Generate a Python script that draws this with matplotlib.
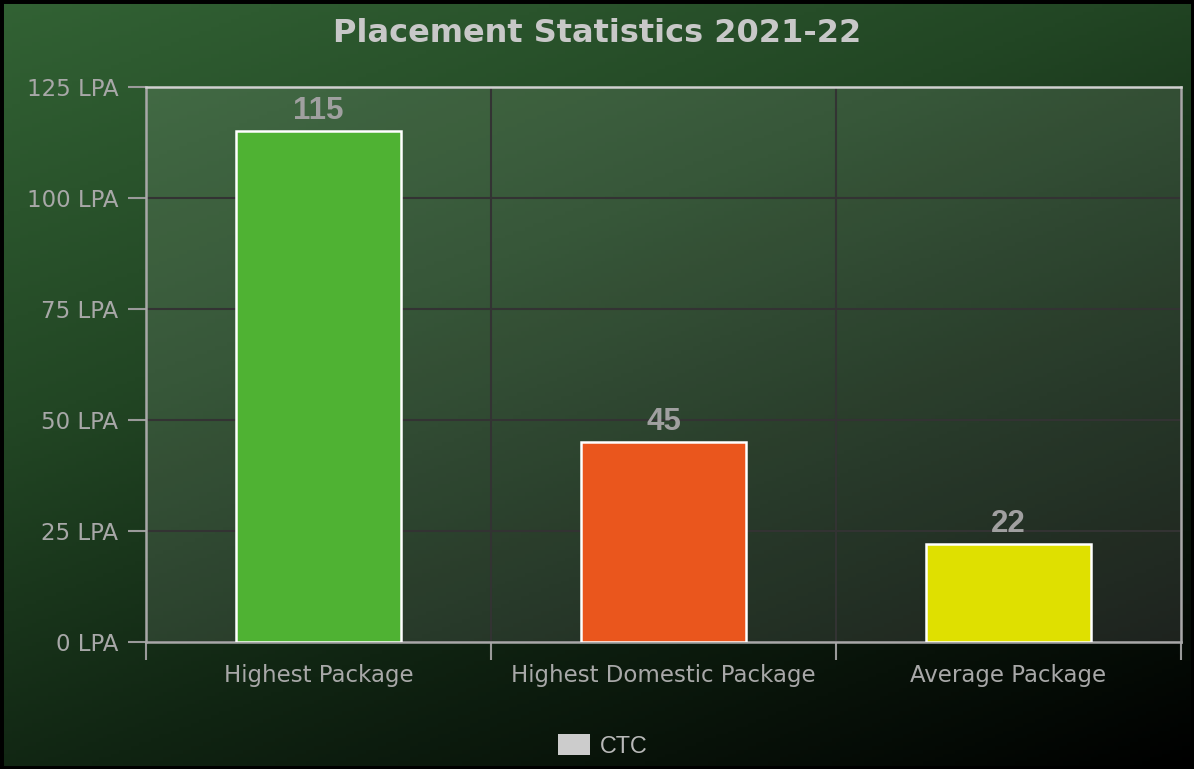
import matplotlib
matplotlib.use("Agg")
import matplotlib.pyplot as plt
import numpy as np
from matplotlib.patches import Patch, Rectangle

categories = ["Highest Package", "Highest Domestic Package", "Average Package"]
ctc = [115, 45, 22]
bar_colors = ["#4fb233", "#ea561d", "#dfe000"]
y_ticks = [0, 25, 50, 75, 100, 125]
y_labels = [f"{v} LPA" for v in y_ticks]

W, H = 1194, 769
fig = plt.figure(figsize=(W / 100, H / 100), dpi=100)

# background gradient (green top-left fading to black bottom-right)
bg = fig.add_axes([0, 0, 1, 1], zorder=-10)
bg.axis("off")
u, v = np.meshgrid(np.linspace(0, 1, 300), np.linspace(0, 1, 200))
t = np.clip(0.45 * u + 0.75 * v, 0, 1.2) / 1.2
stops = np.array([0.0, 0.35, 0.65, 1.0])
cols = np.array([[50, 98, 52], [34, 70, 36], [16, 36, 18], [0, 0, 0]]) / 255
img = np.stack([np.interp(t, stops, cols[:, k]) for k in range(3)], axis=-1)
bg.imshow(img, aspect="auto", extent=[0, 1, 0, 1], origin="upper")
bg.set_xlim(0, 1)
bg.set_ylim(0, 1)
bg.add_patch(Rectangle((0, 0), 1, 1, transform=bg.transAxes, fill=False,
                       edgecolor="black", linewidth=5))

ax = fig.add_axes([146 / W, (H - 642) / H, (1181 - 146) / W, (642 - 87) / H])
ax.set_facecolor((1, 1, 1, 0.1))

x = np.arange(len(categories))
bars = ax.bar(x, ctc, width=0.48, color=bar_colors, edgecolor="white",
              linewidth=1.8, zorder=3)
ax.bar_label(bars, padding=4, fontsize=22.5, fontweight="bold",
             color="#a0a0a0", family="Liberation Sans")

ax.set_xlim(-0.5, 2.5)
ax.set_ylim(0, 125)
ax.set_yticks(y_ticks)
ax.set_yticklabels(y_labels)
ax.set_xticks(x)
ax.set_xticklabels(categories)
ax.set_xticks([-0.5, 0.5, 1.5, 2.5], minor=True)

ax.tick_params(axis="y", length=13, width=1.5, color="#9a9a9a",
               labelcolor="#a8a8a8", labelsize=16.5, pad=7)
ax.tick_params(axis="x", which="major", length=0, labelcolor="#a8a8a8",
               labelsize=16.5, pad=16)
ax.tick_params(axis="x", which="minor", length=13, width=1.5, color="#9a9a9a")

ax.grid(axis="y", color="#333333", linewidth=1.5, zorder=0)
ax.grid(axis="x", which="minor", color="#333333", linewidth=1.5, zorder=0)
ax.set_axisbelow(True)

for side in ["left", "bottom", "right"]:
    ax.spines[side].set_color("#a8a8a8")
    ax.spines[side].set_linewidth(1.8)
ax.spines["top"].set_color("#d0d0d0")
ax.spines["top"].set_linewidth(1.8)

fig.text(0.5, 1 - 33 / H, "Placement Statistics 2021-22", ha="center", va="center",
         fontsize=23, fontweight="bold", color="#c8c8c8")

fig.legend(handles=[Patch(facecolor="#cccccc", edgecolor="none", label="CTC")],
           loc="center", bbox_to_anchor=(0.5 + 6 / W, 1 - 746 / H), frameon=False,
           labelcolor="#b8b8b8", handlelength=1.37, handleheight=0.95,
           handletextpad=0.45, prop={"family": "Liberation Sans", "size": 16.8})

fig.savefig("out.png", dpi=100)
